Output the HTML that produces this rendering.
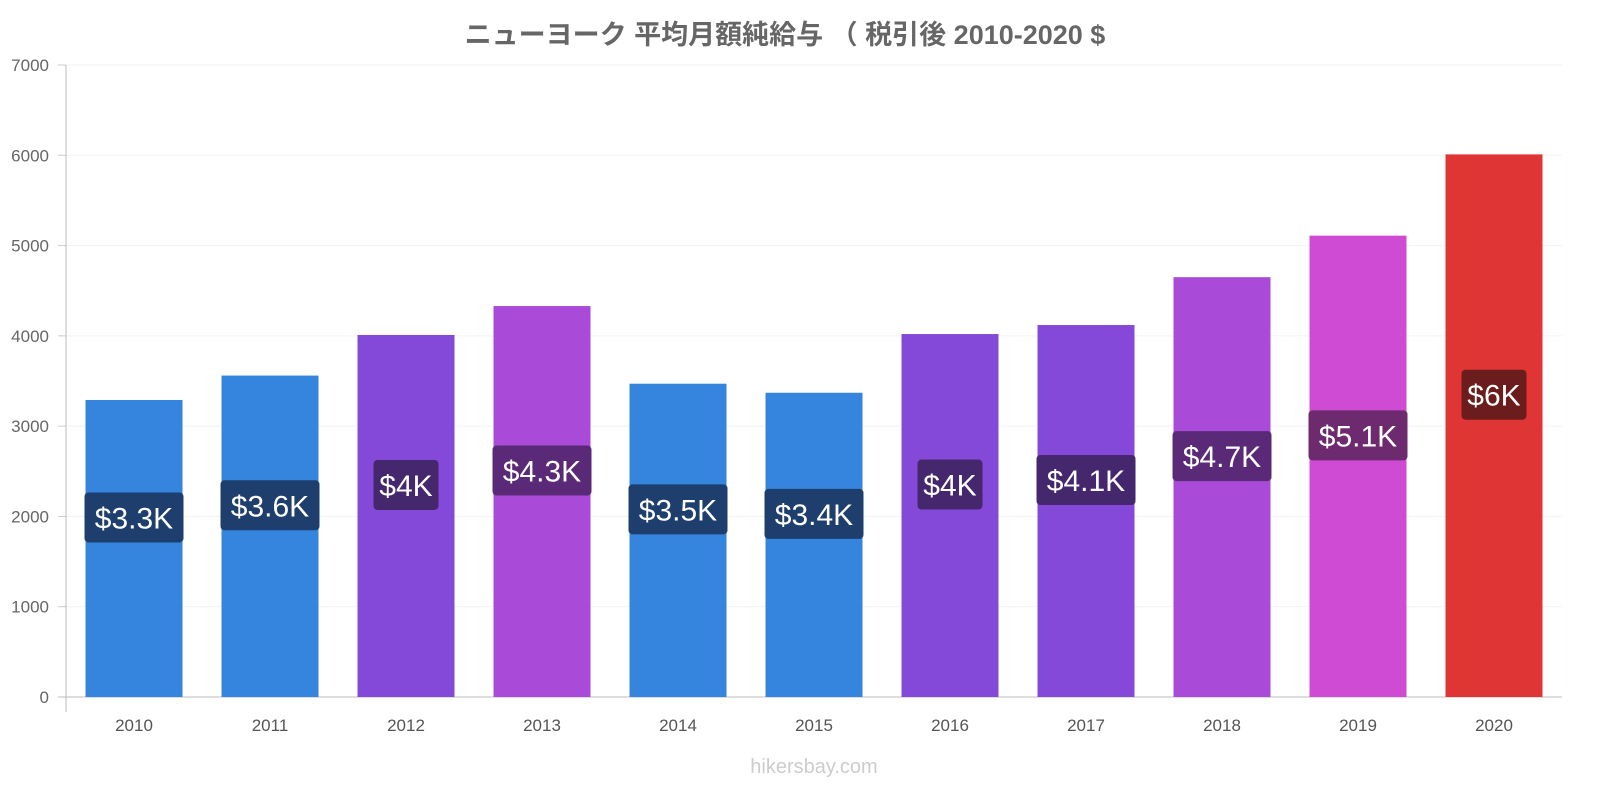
<!DOCTYPE html>
<html><head><meta charset="utf-8"><style>
body{margin:0;background:#fff;width:1600px;height:800px;overflow:hidden}
svg text{font-family:"Liberation Sans","Noto Sans CJK JP",sans-serif}
</style></head><body>
<svg id="c" width="1600" height="800" xmlns="http://www.w3.org/2000/svg">
<text x="785" y="44" text-anchor="middle" font-size="27" font-weight="bold" fill="#666">ニューヨーク 平均月額純給与 （ 税引後 2010-2020 $</text>
<text x="814" y="773" text-anchor="middle" font-size="20" fill="#ccc">hikersbay.com</text>
<g id="g"></g>
</svg>
<script>
const years=["2010","2011","2012","2013","2014","2015","2016","2017","2018","2019","2020"];
const values=[3290,3560,4010,4330,3470,3370,4020,4120,4650,5110,6010];
const labels=["$3.3K","$3.6K","$4K","$4.3K","$3.5K","$3.4K","$4K","$4.1K","$4.7K","$5.1K","$6K"];
const ticks=[0,1000,2000,3000,4000,5000,6000,7000];
const barColors=["#3584de","#3584de","#8549d9","#a94ad8","#3584de","#3584de","#8549d9","#8549d9","#a94ad8","#d04bd3","#e03535"];
const labelColors=["#1e3f6e","#1e3f6e","#45276e","#5a2a78","#1e3f6e","#1e3f6e","#45276e","#45276e","#5a2a78","#6e2a6e","#6b1c1c"];
const NS="http://www.w3.org/2000/svg",g=document.getElementById('g');
const y=v=>697-v*(632/7000);
const x=i=>66+136*i+68;
function mk(t,a){const e=document.createElementNS(NS,t);for(const k in a)e.setAttribute(k,a[k]);g.appendChild(e);return e;}
ticks.forEach(t=>{
 if(t>0){const l=mk('line',{x1:66,x2:1562,y1:y(t),y2:y(t),stroke:'#f2f2f2'});
 
 }
 const m=mk('line',{x1:58,x2:66,y1:y(t),y2:y(t),stroke:'#ccc'});
 
 
 const tx=mk('text',{x:49,y:y(t)+6,'text-anchor':'end','font-size':17,fill:'#666'});tx.textContent=t;
 
 
});
const ax=mk('line',{x1:66,x2:66,y1:65,y2:712,stroke:'#bbb'});


const bx=mk('line',{x1:58,x2:1562,y1:697,y2:697,stroke:'#bbb'});


years.forEach((yr,i)=>{
 const b=mk('rect',{x:x(i)-48.5,y:y(values[i]),width:97,height:697-y(values[i]),fill:barColors[i]});
 
 
 const lt=mk('text',{x:x(i),y:731,'text-anchor':'middle','font-size':17,fill:'#555'});lt.textContent=yr;
 
 
 const cy=(y(values[i])+697)/2-31;
 const w=labels[i].length*17+14;
 const r=mk('rect',{x:x(i)-w/2,y:cy-25,width:w,height:50,rx:4,fill:labelColors[i]});
 
 
 const vt=mk('text',{x:x(i),y:cy+11,'text-anchor':'middle','font-size':30,fill:'#fff'});vt.textContent=labels[i];
 
 
});
</script>
</body></html>
